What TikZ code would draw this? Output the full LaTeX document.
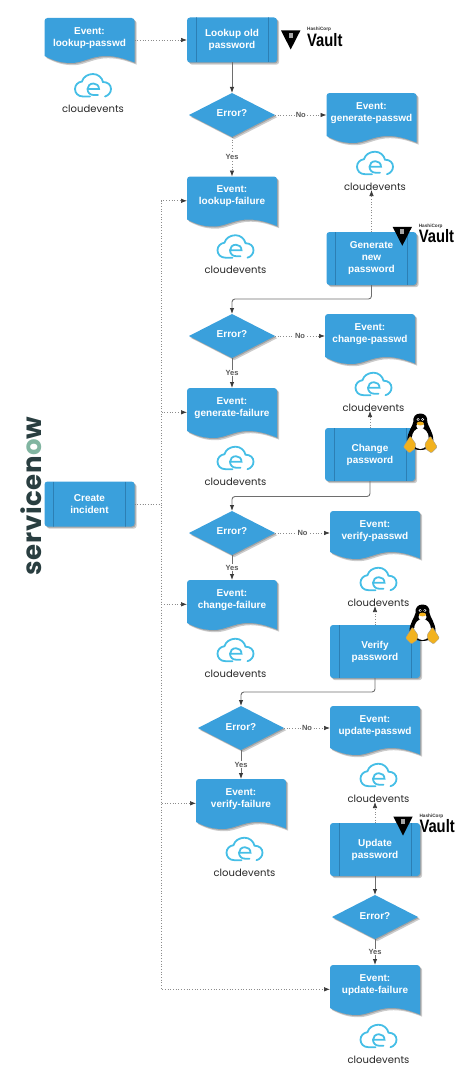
\documentclass[tikz,border=0pt]{standalone}
\usepackage{graphicx}
\usepackage{fontspec}
\setmainfont{Liberation Sans}
\newfontfamily\logofont{Poppins}[LetterSpace=2.5]
\newfontfamily\cefont{Poppins}[LetterSpace=.5]
\usepackage{tikz}
\usetikzlibrary{shapes.geometric, arrows.meta, positioning, shadows}
\definecolor{boxblue}{HTML}{3AA0DC}
\definecolor{boxedge}{HTML}{2C7FB4}
\definecolor{linegray}{HTML}{6E6E6E}
\definecolor{dotgray}{HTML}{8C8C8C}
\definecolor{tipdark}{HTML}{3A3A3A}
\definecolor{cloudblue}{HTML}{45BEE6}
\definecolor{nowdark}{HTML}{293E40}
\definecolor{nowgreen}{HTML}{81B5A1}
\definecolor{tuxyellow}{HTML}{F2B21E}

%% Document shape: top edge rounded, wavy bottom edge.
%% West and east anchors, and the text, hang from the top edge.
\makeatletter
\pgfdeclareshape{eventdoc}{
	\inheritsavedanchors[from=rectangle]
	\inheritanchorborder[from=rectangle]
	\inheritanchor[from=rectangle]{center}
	\inheritanchor[from=rectangle]{north}
	\inheritanchor[from=rectangle]{south}
	\anchor{text}{\southwest \pgf@yb=\pgf@y \northeast
		\pgf@y=\dimexpr(\pgf@y-\pgf@yb)/2-19.8pt\relax \pgf@x=0pt}
	\anchor{west}{\northeast \pgf@yb=\pgf@y \southwest
		\pgf@y=\dimexpr\pgf@yb-22pt\relax}
	\anchor{east}{\southwest \pgf@xb=\pgf@x \northeast
		\pgf@y=\dimexpr\pgf@y-22pt\relax}
	\backgroundpath{
		\southwest \edef\docL{\the\pgf@x}\edef\docB{\the\pgf@y}
		\northeast \edef\docR{\the\pgf@x}\edef\docT{\the\pgf@y}
		\pgfmathsetmacro\docW{\docR-\docL}
		\pgfmathsetmacro\docX{\docL}
		\pgfmathsetmacro\docY{\docB}
		\def\docPt##1##2{\pgfqpoint{\dimexpr\docX pt+##1\dimexpr\docW pt\relax\relax}{\dimexpr\docY pt+##2pt\relax}}
		\pgfsetcornersarced{\pgfqpoint{3pt}{3pt}}
		\pgfpathmoveto{\pgfpoint{\docL}{\dimexpr\docB+7pt\relax}}
		\pgfpathlineto{\pgfpoint{\docL}{\docT}}
		\pgfpathlineto{\pgfpoint{\docR}{\docT}}
		\pgfsetcornersarced{\pgfpointorigin}
		\pgfpathlineto{\pgfpoint{\docR}{\dimexpr\docB+.5pt\relax}}
		\pgfpathcurveto{\docPt{.9}{4}}{\docPt{.8}{7}}{\docPt{.68}{7}}
		\pgfpathcurveto{\docPt{.52}{7}}{\docPt{.42}{0}}{\docPt{.3}{0}}
		\pgfpathcurveto{\docPt{.2}{0}}{\docPt{.12}{1.5}}{\docPt{0}{7}}
		\pgfpathclose
	}
}
\makeatother

\begin{document}
\begin{tikzpicture}[
			x=1pt, y=1pt,
			every node/.style={font=\bfseries\fontsize{10}{12}\selectfont, outer sep=0pt},
			softshadow/.style={
				drop shadow={shadow xshift=1pt, shadow yshift=-1pt, fill=black, opacity=.2},
				drop shadow={shadow xshift=2.2pt, shadow yshift=-2.2pt, fill=black, opacity=.2}},
			%% Node styles
			event/.style={eventdoc, fill=boxblue, text=white, softshadow,
				minimum width=90pt, minimum height=50pt, inner sep=0pt, align=center},
			process/.style={rectangle, fill=boxblue, text=white, softshadow,
				rounded corners=3pt, minimum width=90pt, minimum height=53pt,
				inner sep=0pt, align=center,
				path picture={
					\draw[boxedge, line width=.6pt]
					([xshift=9pt]path picture bounding box.north west) --
					([xshift=9pt]path picture bounding box.south west);
					\draw[boxedge, line width=.6pt]
					([xshift=-9pt]path picture bounding box.north east) --
					([xshift=-9pt]path picture bounding box.south east);}},
			decision/.style={diamond, aspect=1.95, fill=boxblue, text=white, softshadow,
				minimum width=86pt, minimum height=44pt, inner sep=0pt,
				text depth=3pt, align=center},
			celabel/.style={font=\cefont\fontsize{10}{12}\selectfont, text=black!85,
				inner sep=0pt, text height=8pt, text depth=0pt},
			%% Arrow styles
			arr/.style={-{Latex[length=6pt,width=4.5pt,color=tipdark]}, draw=linegray, line width=.9pt},
			darr/.style={-{Latex[length=6pt,width=4.5pt,color=tipdark]}, draw=dotgray, line width=.7pt, dotted},
			%% Edge labels
			lbl/.style={font=\bfseries\fontsize{7.5}{9}\selectfont, text=black!65, fill=white, inner sep=.8pt},
			%% Logos
			pics/cecloud/.style={code={
					\begin{scope}[yscale=-1, draw=cloudblue, line width=1.8pt, line cap=round]
						\draw (-3,11) -- (-10,11) .. controls (-15,11) and (-18,7.5) .. (-18,3.5)
						.. controls (-18,-.5) and (-15,-3.5) .. (-11,-4)
						.. controls (-10,-8.5) and (-5,-11.5) .. (0,-11.5)
						.. controls (5,-11.5) and (9,-8) .. (10,-3.5)
						.. controls (15,-3.5) and (18,-.5) .. (18,3.5)
						.. controls (18,7) and (15.5,10) .. (12,11);
						\draw (-5,3.5) -- (6,3.5) .. controls (6,0) and (3.5,-2) .. (.5,-2)
						.. controls (-3,-2) and (-5.5,.5) .. (-5.5,3.5)
						.. controls (-5.5,7) and (-3,9.5) .. (.5,9.5) -- (5,9.5);
					\end{scope}}},
			pics/vaultlogo/.style={code={
					\fill[black] (-9.7,9.5) -- (9.7,9.5) -- (0,-9.5) -- cycle;
					\fill[black!35] (-2,7) rectangle (2,2);
					\node[anchor=base west, inner sep=0pt, text=black, font=\bfseries\fontsize{18}{18}\selectfont]
					at (16.5,-6.5) {\scalebox{.82}[1]{Vault}};
					\node[anchor=base west, inner sep=0pt, text=black!80, font=\bfseries\fontsize{4.7}{5}\selectfont]
					at (16.5,9) {HashiCorp};}},
			pics/tuxlogo/.style={code={
					\begin{scope}[yscale=-1]
						\fill[black] (0,-19.5) .. controls (-5,-19.5) and (-7.5,-16) .. (-7,-11)
						.. controls (-7.5,-7) and (-13,-1) .. (-13,7)
						.. controls (-13,12) and (-8,17) .. (0,17)
						.. controls (8,17) and (13,12) .. (13,7)
						.. controls (13,-1) and (7.5,-7) .. (7,-11)
						.. controls (7.5,-16) and (5,-19.5) .. (0,-19.5) -- cycle;
						\fill[white] (0,5.5) ellipse (8.5 and 10.5);
						\fill[white] (0,-7) ellipse (4 and 3.5);
						\foreach \s in {-1,1} {
							\fill[white] (\s*2.3,-13.5) circle (1.5);
							\fill[black] (\s*2.1,-13.3) circle (.7);
							\fill[tuxyellow, draw=black!40, line width=.3pt, rounded corners=1pt] (\s*17,14) -- (\s*10,3)
							-- (\s*4.5,11) -- (\s*5.5,16) -- (\s*11,20) -- cycle;
						}
						\fill[tuxyellow] (0,-9.5) ellipse (3.6 and 1.9);
					\end{scope}}},
			]
			\useasboundingbox (0,0) rectangle (474,-1081);
			
			%% Left column
			\node[event, minimum height=45pt] (evLookup) at (89.5,-40.5)
			{Event:\\lookup-passwd};
			\node[process, minimum height=45pt, below=418.5pt of evLookup] (pIncident)
			{Create\\incident};
			\coordinate[right=26.5pt of pIncident] (bus);
			
			%% Middle column (top to bottom)
			\node[process, minimum height=45pt, right=52.5pt of evLookup] (pLookup)
			{Lookup old\\password};
			\node[decision, below=30.5pt of pLookup] (dErrA) {Error?};
			\node[event, below=39.5pt of dErrA] (evLookFail)
			{Event:\\lookup-failure};
			\node[decision, below=87.5pt of evLookFail] (dErrB) {Error?};
			\node[event, below=30pt of dErrB] (evGenFail)
			{Event:\\generate-failure};
			\node[decision, below=73pt of evGenFail] (dErrC) {Error?};
			\node[event, below=25pt of dErrC] (evChangeFail)
			{Event:\\change-failure};
			\node[decision, below=76pt of evChangeFail, xshift=9pt] (dErrD) {Error?};
			\node[event, below=29pt of dErrD] (evVerifyFail)
			{Event:\\verify-failure};
			
			%% Right column
			\node[event, right=51.5pt of dErrA] (evGenPw)
			{Event:\\generate-passwd};
			\node[process, below=89pt of evGenPw] (pGen)
			{Generate\\new\\password};
			\node[event, right=50pt of dErrB] (evChangePw)
			{Event:\\change-passwd};
			\node[process, below=64pt of evChangePw] (pChange)
			{Change\\password};
			\node[event, minimum height=48pt, right=55pt of dErrC] (evVerifyPw)
			{Event:\\verify-passwd};
			\node[process, below=66pt of evVerifyPw] (pVerify)
			{Verify\\password};
			\node[event, minimum height=49pt, right=46pt of dErrD] (evUpdPw)
			{Event:\\update-passwd};
			\node[process, below=68pt of evUpdPw] (pUpdate)
			{Update\\password};
			\node[decision, below=19pt of pUpdate] (dErrE) {Error?};
			\node[event, below=26pt of dErrE] (evUpdFail)
			{Event:\\update-failure};
			
			%% Cloudevents labels under the documents
			\node[celabel, below=41.3pt of evLookup, xshift=3.5pt] (ceLookup) {cloudevents};
			\node[celabel, below=39pt of evGenPw, xshift=3.5pt] (ceGenPw) {cloudevents};
			\node[celabel, below=39pt of evLookFail, xshift=3.5pt] (ceLookFail) {cloudevents};
			\node[celabel, below=39pt of evChangePw, xshift=3.5pt] (ceChangePw) {cloudevents};
			\node[celabel, below=39pt of evGenFail, xshift=3.5pt] (ceGenFail) {cloudevents};
			\node[celabel, below=39pt of evVerifyPw, xshift=3.5pt] (ceVerifyPw) {cloudevents};
			\node[celabel, below=39pt of evChangeFail, xshift=3.5pt] (ceChangeFail) {cloudevents};
			\node[celabel, below=39pt of evUpdPw, xshift=3.5pt] (ceUpdPw) {cloudevents};
			\node[celabel, below=39pt of evVerifyFail, xshift=3.5pt] (ceVerifyFail) {cloudevents};
			\node[celabel, below=40pt of evUpdFail, xshift=3.5pt] (ceUpdFail) {cloudevents};
			\foreach \ce in {ceLookup,ceGenPw,ceLookFail,ceChangePw,ceGenFail,ceVerifyPw,ceChangeFail,ceUpdPw,ceVerifyFail,ceUpdFail}
			\pic at ([yshift=18.8pt]\ce.north) {cecloud};
			
			%% Vendor logos
			\pic at ([xshift=13.7pt]pLookup.east) {vaultlogo};
			\pic at ([xshift=-14.2pt,yshift=-4.3pt]pGen.north east) {vaultlogo};
			\pic at ([xshift=-17pt,yshift=-3pt]pUpdate.north east) {vaultlogo};
			\pic at ([xshift=5.3pt,yshift=-5pt]pChange.north east) {tuxlogo};
			\pic at ([xshift=2.5pt,yshift=1pt]pVerify.north east) {tuxlogo};
			\node[rotate=90, inner sep=0pt, text=nowdark, font=\logofont\bfseries\fontsize{26}{26}\selectfont] (snLogo)
			at (31,-496) {servicen{\color{nowgreen}o}w};
			
			%% Main arrows
			\draw[darr] (evLookup.east) -- (pLookup);
			\draw[arr]  (pLookup) -- (dErrA);
			\draw[darr] (dErrA.east) -- node[lbl]{No} (evGenPw.west);
			\draw[darr] (dErrA) -- node[lbl]{Yes} (evLookFail);
			\draw[darr] (pGen.north) -- (pGen.north |- ceGenPw.south);
			\draw[arr, rounded corners=3pt] (pGen.south) -- ++(0,-14) -| (dErrB.north);
			\draw[darr] (dErrB.east) -- node[lbl]{No} (evChangePw.west);
			\draw[arr]  (dErrB) -- node[lbl]{Yes} (evGenFail);
			\draw[darr] (pChange.north) -- (pChange.north |- ceChangePw.south);
			\draw[arr, rounded corners=3pt] (pChange.south) -- ++(0,-15.5) -| (dErrC.north);
			\draw[darr] (dErrC.east) -- node[lbl]{No} (evVerifyPw.west);
			\draw[arr]  (dErrC) -- node[lbl]{Yes} (evChangeFail);
			\draw[darr] (pVerify.north) -- (pVerify.north |- ceVerifyPw.south);
			\draw[arr, rounded corners=3pt] (pVerify.south) -- ++(0,-14) -| (dErrD.north);
			\draw[darr] (dErrD.east) -- node[lbl]{No} (evUpdPw.west);
			\draw[arr]  (dErrD) -- node[lbl]{Yes} (evVerifyFail);
			\draw[darr] (pUpdate.north) -- (pUpdate.north |- ceUpdPw.south);
			\draw[arr]  (pUpdate) -- (dErrE);
			\draw[arr]  (dErrE) -- node[lbl]{Yes} (evUpdFail);
			
			%% Incident feeds every failure event
			\foreach \target in {evLookFail,evGenFail,evChangeFail,evVerifyFail,evUpdFail}
			\draw[darr] (pIncident.east) -- (bus) |- ([yshift=-2.3pt]\target.west);
			
		\end{tikzpicture}
\end{document}
